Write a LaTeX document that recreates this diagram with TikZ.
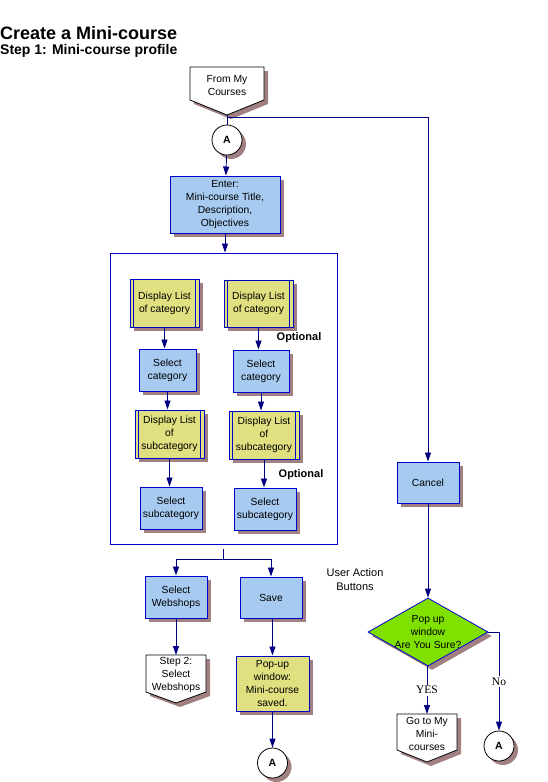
\documentclass[tikz,border=0pt]{standalone}
\usepackage{fontspec}
\setmainfont{Liberation Sans}
\newfontfamily\serifx{Liberation Serif}
\usetikzlibrary{arrows.meta,shapes.geometric,shadows}
\definecolor{bluefill}{HTML}{A6CAF0}
\definecolor{yelfill}{HTML}{E0E080}
\definecolor{grnfill}{HTML}{80E000}
\definecolor{shad}{HTML}{A08080}
\definecolor{navy}{HTML}{000080}
\definecolor{bord}{HTML}{0000CC}
\tikzset{
  shd/.style={drop shadow={shadow xshift=4pt, shadow yshift=-4pt, fill=shad, opacity=1}},
  box/.style={draw=bord, line width=1pt, inner sep=0pt, align=center,
    font=\fontsize{10.3}{13}\selectfont, shd},
  bbox/.style={box, fill=bluefill},
  ybox/.style={box, fill=yelfill},
  txt/.style={align=center, inner sep=0pt, font=\fontsize{10.3}{13}\selectfont},
  circ/.style={circle, draw=black, fill=white, line width=0.8pt, minimum size=30pt,
    inner sep=0pt, font=\bfseries\fontsize{10.5}{12}\selectfont, shd},
  conn/.style={draw=navy, line width=0.9pt},
  arr/.style={conn, -{Triangle[length=9pt,width=6pt]}},
  opt/.style={font=\bfseries\fontsize{11}{13}\selectfont, inner sep=0pt},
  lbl/.style={fill=white, inner sep=1.5pt, font=\serifx\fontsize{11.5}{13}\selectfont}
}
\newcommand{\offpg}[5]{%
  \fill[shad] ({#1+4},{#3+4}) -- ({#2+4},{#3+4}) -- ({#2+4},{#4+4}) -- ({(#1+#2)/2+4},{#5+4}) -- ({#1+4},{#4+4}) -- cycle;
  \draw[draw=black, fill=white, line width=0.8pt] (#1,#3) -- (#2,#3) -- (#2,#4) -- ({(#1+#2)/2},#5) -- (#1,#4) -- cycle;}
\newcommand{\dbl}[1]{%
  \draw[bord, line width=1pt] ([xshift=4pt]#1.north west) -- ([xshift=4pt]#1.south west)
    ([xshift=-4pt]#1.north east) -- ([xshift=-4pt]#1.south east);}
\begin{document}
\begin{tikzpicture}[x=1pt,y=-1pt]
\useasboundingbox (0,0) rectangle (547,782);
% titles
\node[anchor=base west, inner sep=0pt, font=\bfseries\fontsize{18}{20}\selectfont] (title) at (0,39) {Create a Mini-course};
\node[anchor=base west, inner sep=0pt, font=\bfseries\fontsize{14}{16}\selectfont] (subtitle) at (0,54) {Step 1: Mini-course profile};

% From My Courses
\offpg{190}{264}{67}{100}{115}
\node[txt] (from) at (227,85.5) {From My\\Courses};
\coordinate (fromtip) at (227,115);
\coordinate (j1) at (227,117);

\node[circ] (a1) at (227,140) {A};
\node[bbox, minimum width=110pt, minimum height=57pt] (enter) at (225,204.5) {Enter:\\Mini-course Title,\\Description,\\Objectives};

% container
\node[draw=bord, line width=1pt, minimum width=227pt, minimum height=291pt, inner sep=0pt] (cont) at (223.5,398.5) {};

% left column
\node[ybox, minimum width=69pt, minimum height=48pt] (dl1) at (164.5,303) {Display List\\of category};
\dbl{dl1}
\node[bbox, minimum width=57pt, minimum height=42pt] (sc1) at (167.5,370) {Select\\category};
\node[ybox, minimum width=69pt, minimum height=48pt] (dsl1) at (169.5,434) {Display List\\of\\subcategory};
\dbl{dsl1}
\node[bbox, minimum width=62pt, minimum height=42pt] (ss1) at (171,508) {Select\\subcategory};

% right column
\node[ybox, minimum width=69pt, minimum height=47pt] (dl2) at (258.5,303.5) {Display List\\of category};
\dbl{dl2}
\node[bbox, minimum width=56pt, minimum height=42pt] (sc2) at (261,371) {Select\\category};
\node[ybox, minimum width=70pt, minimum height=48pt] (dsl2) at (264,435) {Display List\\of\\subcategory};
\dbl{dsl2}
\node[bbox, minimum width=62pt, minimum height=42pt] (ss2) at (265,509) {Select\\subcategory};

\node[opt] (opt1) at (299,338) {Optional};
\node[opt] (opt2) at (301,475) {Optional};

% lower part
\node[bbox, minimum width=62pt, minimum height=42pt] (sw) at (176,597) {Select\\Webshops};
\node[bbox, minimum width=62pt, minimum height=41pt] (save) at (271,597.5) {Save};
\offpg{146}{206}{655}{692}{703}
\node[txt] (step2) at (176,675) {Step 2:\\Select\\Webshops};
\coordinate (step2top) at (176,655);
\node[ybox, minimum width=73pt, minimum height=55pt] (popup) at (272.5,683.5) {Pop-up\\window:\\Mini-course\\saved.};
\node[circ] (a2) at (272.5,763) {A};

\node[align=center, inner sep=0pt, font=\fontsize{11}{14}\selectfont] (uab) at (355,580) {User Action\\Buttons};

% right side
\node[bbox, minimum width=62pt, minimum height=41pt] (cancel) at (428,482.5) {Cancel};
\node[diamond, draw=bord, line width=0.8pt, fill=grnfill, minimum width=120pt, minimum height=68pt, inner sep=0pt, shd] (dia) at (428,632) {};
\node[txt] (diatxt) at (dia) {Pop up\\window\\Are You Sure?};
\offpg{397}{457}{714}{750}{762}
\node[txt] (goto) at (427,734) {Go to My\\Mini-\\courses};
\coordinate (gotop) at (427,714);
\node[circ] (a3) at (499,746) {A};

% connectors
\draw[conn] (fromtip) -- (a1);
\draw[arr] (j1) -| (cancel);
\draw[arr] (a1) -- (enter);
\draw[arr] (enter.south) -- (enter.south |- cont.north);
\draw[arr] (dl1.south) -- (dl1.south |- sc1.north);
\draw[arr] (sc1.south) -- (sc1.south |- dsl1.north);
\draw[arr] (dsl1.south) -- (dsl1.south |- ss1.north);
\draw[arr] (dl2.south) -- (dl2.south |- sc2.north);
\draw[arr] (sc2.south) -- (sc2.south |- dsl2.north);
\draw[arr] (dsl2.south) -- (dsl2.south |- ss2.north);
\coordinate (cb) at (223,549);
\coordinate (jb) at (223,559);
\draw[conn] (cb) -- (jb);
\draw[arr] (jb) -| (sw);
\draw[arr] (jb) -| (save);
\draw[arr] (sw) -- (step2top);
\draw[arr] (save.south -| popup) -- (popup);
\draw[arr] (popup) -- (a2);
\draw[arr] (cancel) -- (dia);
\draw[arr] (dia.south -| gotop) -- node[lbl] {YES} (gotop);
\draw[arr] (dia.east) -| node[lbl, pos=0.75] {No} (a3);
\end{tikzpicture}
\end{document}
